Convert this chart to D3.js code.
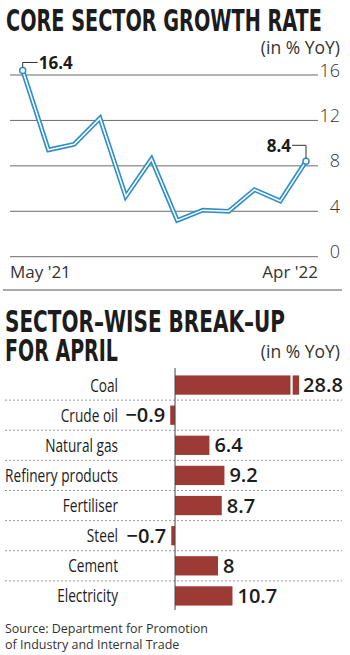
<!DOCTYPE html>
<html>
<head>
<meta charset="utf-8">
<script src="https://cdn.jsdelivr.net/npm/d3@7"></script>
<style>
  body { margin: 0; background: #fff; }
  .cond { font-family: "Liberation Sans Narrow", "DejaVu Sans Condensed", "Open Sans", sans-serif; font-stretch: condensed; }
  .sans { font-family: "Open Sans", "Noto Sans", sans-serif; }
</style>
</head>
<body>
<script>
// core sector growth, monthly (in % YoY)
const months = ["May '21", "Jun", "Jul", "Aug", "Sep", "Oct", "Nov", "Dec", "Jan", "Feb", "Mar", "Apr '22"];
const growth = [16.4, 9.4, 9.9, 12.2, 5.3, 8.6, 3.2, 4.1, 4.0, 5.9, 4.9, 8.4];
const yTicks = [0, 4, 8, 12, 16];

// sector-wise break-up for April
const sectors = ["Coal", "Crude oil", "Natural gas", "Refinery products", "Fertiliser", "Steel", "Cement", "Electricity"];
const sectorVals = [28.8, -0.9, 6.4, 9.2, 8.7, -0.7, 8, 10.7];
const breakAt = 21.5; // coal bar is cut here
const tailLen = 1.2;

const width = 350, height = 655;
const blue = "#2f8fc9", red = "#9c3a35", ink = "#1c1c1c";

const svg = d3.select("body").append("svg")
    .attr("width", width)
    .attr("height", height);

// headline squeezed to a target width (no condensed font on the box)
function headline(txt, x0, y0, w) {
    const t = svg.append("text").attr("class", "cond")
        .attr("x", 0).attr("y", 0)
        .attr("font-size", 30).attr("font-weight", 700).attr("fill", ink)
        .text(txt);
    const k = w / t.node().getComputedTextLength();
    t.attr("transform", `translate(${x0},${y0}) scale(${k},1)`);
    return t;
}

// ---------- top: line chart ----------
headline("CORE SECTOR GROWTH RATE", 6, 31, 316);

svg.append("text").attr("class", "sans")
    .attr("x", 340).attr("y", 54).attr("text-anchor", "end")
    .attr("font-size", 17.5).attr("fill", "#333")
    .text("(in % YoY)");

const x = d3.scalePoint().domain(months).range([22.7, 306]);
const y = d3.scaleLinear().domain([0, 16]).range([256.7, 75]);

const grid = svg.append("g");
grid.selectAll("line").data(yTicks).join("line")
    .attr("x1", 10).attr("x2", 318)
    .attr("y1", d => y(d)).attr("y2", d => y(d))
    .attr("stroke", "#6b6b6b").attr("stroke-width", 1);
grid.selectAll("text").data(yTicks).join("text").attr("class", "sans")
    .attr("x", 340).attr("y", d => y(d) + 1.5)
    .attr("text-anchor", "end")
    .attr("font-size", 18).attr("font-weight", 300).attr("fill", "#333")
    .text(d => d);

svg.append("text").attr("class", "sans")
    .attr("x", 10).attr("y", 277.5)
    .attr("font-size", 17).attr("fill", "#333")
    .text(months[0]);
svg.append("text").attr("class", "sans")
    .attr("x", 318).attr("y", 277.5).attr("text-anchor", "end")
    .attr("font-size", 17).attr("fill", "#333")
    .text(months[months.length - 1]);

const line = d3.line()
    .x((d, i) => x(months[i]))
    .y(d => y(d));

svg.append("path").datum(growth)
    .attr("d", line).attr("fill", "none")
    .attr("stroke", blue).attr("stroke-width", 4.8).attr("stroke-linejoin", "miter");
svg.append("path").datum(growth)
    .attr("d", line).attr("fill", "none")
    .attr("stroke", "#fff").attr("stroke-width", 1.5).attr("stroke-linejoin", "miter");

// end markers + callouts
const ends = [0, growth.length - 1];
svg.selectAll("circle.end").data(ends).join("circle")
    .attr("class", "end")
    .attr("cx", i => x(months[i])).attr("cy", i => y(growth[i]))
    .attr("r", 3).attr("fill", "#fff")
    .attr("stroke", blue).attr("stroke-width", 1.5);

const firstX = x(months[0]), firstY = y(growth[0]);
svg.append("path")
    .attr("d", `M${firstX},${firstY - 3}V${firstY - 8}H${firstX + 15}`)
    .attr("fill", "none").attr("stroke", "#333").attr("stroke-width", 1);
svg.append("text").attr("class", "sans")
    .attr("x", firstX + 16).attr("y", firstY - 1)
    .attr("font-size", 17).attr("font-weight", 700).attr("fill", ink)
    .text(growth[0]);

const lastX = x(months[11]), lastY = y(growth[11]);
svg.append("path")
    .attr("d", `M${lastX},${lastY - 3}V${lastY - 16}H${lastX - 14}`)
    .attr("fill", "none").attr("stroke", "#333").attr("stroke-width", 1);
svg.append("text").attr("class", "sans")
    .attr("x", lastX - 15).attr("y", lastY - 9).attr("text-anchor", "end")
    .attr("font-size", 17).attr("font-weight", 700).attr("fill", ink)
    .text(growth[11]);

// divider
svg.append("line")
    .attr("x1", 3).attr("x2", 342).attr("y1", 290).attr("y2", 290)
    .attr("stroke", "#555").attr("stroke-width", 1.2);

// ---------- bottom: bar chart ----------
headline("SECTOR–WISE BREAK–UP", 5, 332, 280);
headline("FOR APRIL", 5, 361, 113);
svg.append("text").attr("class", "sans")
    .attr("x", 340).attr("y", 358).attr("text-anchor", "end")
    .attr("font-size", 17.5).attr("fill", "#333")
    .text("(in % YoY)");

const xb = d3.scaleLinear().domain([-2, 30]).range([164.3, 336.1]);
const yb = d3.scaleBand().domain(sectors).range([370, 611])
    .paddingInner(0.36).paddingOuter(0.18);
const step = yb.step();

// dotted separators
svg.selectAll("line.sep").data(sectors.slice(0, -1)).join("line")
    .attr("class", "sep")
    .attr("x1", 5).attr("x2", 342)
    .attr("y1", d => yb(d) + yb.bandwidth() + (step - yb.bandwidth()) / 2)
    .attr("y2", d => yb(d) + yb.bandwidth() + (step - yb.bandwidth()) / 2)
    .attr("stroke", "#9a9a9a").attr("stroke-width", 1)
    .attr("stroke-dasharray", "2,2");

const rows = sectors.map((s, i) => ({ name: s, v: sectorVals[i] }));

svg.selectAll("rect.bar").data(rows).join("rect")
    .attr("class", "bar")
    .attr("x", d => xb(Math.min(0, d.v)))
    .attr("y", d => yb(d.name))
    .attr("width", d => Math.abs(xb(Math.min(d.v, breakAt)) - xb(0)))
    .attr("height", yb.bandwidth())
    .attr("fill", red);

// tail piece for the cut coal bar
const cut = rows.filter(d => d.v > breakAt);
svg.selectAll("rect.tail").data(cut).join("rect")
    .attr("class", "tail")
    .attr("x", xb(breakAt) + 2.2)
    .attr("y", d => yb(d.name))
    .attr("width", xb(tailLen) - xb(0))
    .attr("height", yb.bandwidth())
    .attr("fill", red);

// axis line at zero
svg.append("line")
    .attr("x1", xb(0)).attr("x2", xb(0))
    .attr("y1", 368).attr("y2", 610)
    .attr("stroke", "#444").attr("stroke-width", 1);

// category labels: squeeze horizontally so the longest fits the reference width
const cats = svg.selectAll("text.cat").data(rows).join("text")
    .attr("class", "cat sans")
    .attr("x", 0).attr("y", 0)
    .attr("text-anchor", "end")
    .attr("font-size", 18).attr("fill", ink)
    .text(d => d.name);
const widest = d3.max(cats.nodes(), n => n.getComputedTextLength());
const sx = 113 / widest;
cats.attr("transform", d => `translate(118,${yb(d.name) + yb.bandwidth() / 2 + 6.5}) scale(${sx},1)`);

svg.selectAll("text.val").data(rows).join("text")
    .attr("class", "val sans")
    .attr("x", d => {
        if (d.v < 0) return xb(d.v) - 5;
        if (d.v > breakAt) return xb(breakAt) + 2.2 + (xb(tailLen) - xb(0)) + 4;
        return xb(d.v) + 5;
    })
    .attr("y", d => yb(d.name) + yb.bandwidth() / 2 + 7)
    .attr("text-anchor", d => d.v < 0 ? "end" : "start")
    .attr("font-size", 20).attr("font-weight", 600).attr("fill", ink)
    .text(d => d.v < 0 ? "\u2212" + Math.abs(d.v) : d.v);

// source
svg.append("text").attr("class", "sans")
    .attr("x", 5).attr("y", 633)
    .attr("font-size", 12.5).attr("fill", "#333")
    .text("Source: Department for Promotion");
svg.append("text").attr("class", "sans")
    .attr("x", 5).attr("y", 649)
    .attr("font-size", 12.5).attr("fill", "#333")
    .text("of Industry and Internal Trade");
</script>
</body>
</html>
